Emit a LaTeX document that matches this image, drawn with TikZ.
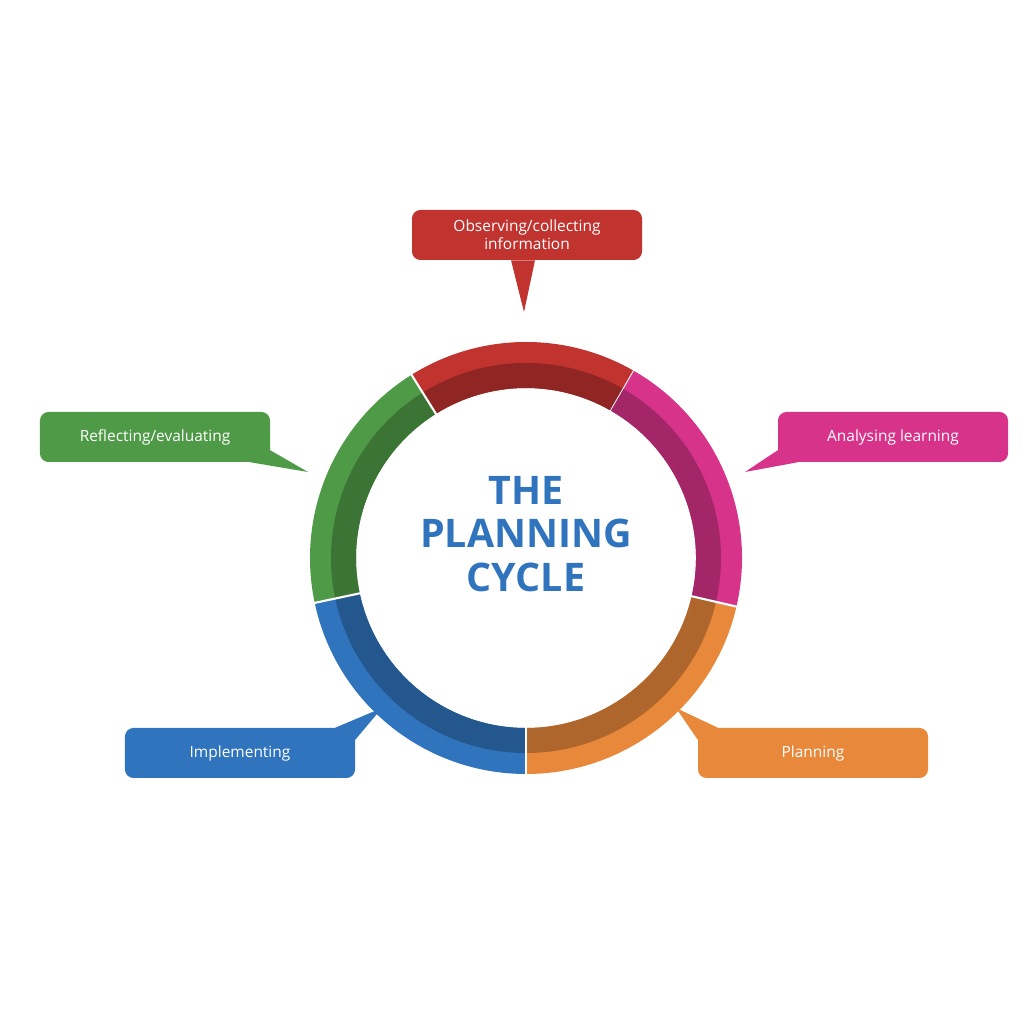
\documentclass[tikz,border=0pt]{standalone}
\usepackage{fontspec}
\setmainfont{Open Sans}
\usetikzlibrary{positioning}
\definecolor{cred}{HTML}{C0332F}
\definecolor{cpink}{HTML}{D8338A}
\definecolor{corange}{HTML}{E8883A}
\definecolor{cblue}{HTML}{2F74BD}
\definecolor{cgreen}{HTML}{4F9A47}
\tikzset{
  callout/.style={rounded corners=6pt, minimum width=57.5mm, minimum height=12.5mm,
    text=white, font=\fontsize{11}{13}\selectfont, align=center, inner sep=2pt},
}
\begin{document}
\begin{tikzpicture}[x=0.25mm, y=0.25mm]
      \useasboundingbox (0,0) rectangle (1024,1024);
      \coordinate (c) at (526,466);
      % ring segments: start, end, colour
      \foreach \a/\b/\col in {60/122/cred, 122/192/cgreen, 192/270/cblue, 270/347/corange, -13/60/cpink}{
        \fill[\col] ([shift={(\a:216)}]c) arc[start angle=\a, end angle=\b, radius=216]
          -- ([shift={(\b:170)}]c) arc[start angle=\b, end angle=\a, radius=170] -- cycle;
        \fill[\col!75!black] ([shift={(\a:195)}]c) arc[start angle=\a, end angle=\b, radius=195]
          -- ([shift={(\b:170)}]c) arc[start angle=\b, end angle=\a, radius=170] -- cycle;
        \draw[white, line width=1.5pt] ([shift={(\a:168)}]c) -- ([shift={(\a:218)}]c);
      }
      \node[text=cblue, font=\fontsize{28}{31}\selectfont\bfseries, align=center] (title) at (526,490) {THE\\PLANNING\\CYCLE};

      \node[callout, fill=cred] (obs) at (527,789) {Observing/collecting\\information};
      \node[callout, fill=cpink] (ana) at (893,587) {Analysing learning};
      \node[callout, fill=cgreen] (ref) at (155,587) {Reflecting/evaluating};
      \node[callout, fill=cblue] (imp) at (240,271) {Implementing};
      \node[callout, fill=corange] (pla) at (813,271) {Planning};

      \coordinate (obs tip) at (524,712);
      \coordinate (ana tip) at (745,552);
      \coordinate (ref tip) at (308,552);
      \coordinate (imp tip) at (382,316);
      \coordinate (pla tip) at (676,316);
      \fill[cred] ([xshift=-4mm]obs.south) -- (obs tip) -- ([xshift=2mm]obs.south) -- cycle;
      \fill[cpink] ([yshift=3mm]ana.south west) -- (ana tip) -- ([xshift=5mm]ana.south west) -- cycle;
      \fill[cgreen] ([yshift=3mm]ref.south east) -- (ref tip) -- ([xshift=-5mm]ref.south east) -- cycle;
      \fill[cblue] ([yshift=-3mm]imp.north east) -- (imp tip) -- ([xshift=-5mm]imp.north east) -- cycle;
      \fill[corange] ([yshift=-3mm]pla.north west) -- (pla tip) -- ([xshift=5mm]pla.north west) -- cycle;
\end{tikzpicture}
\end{document}
